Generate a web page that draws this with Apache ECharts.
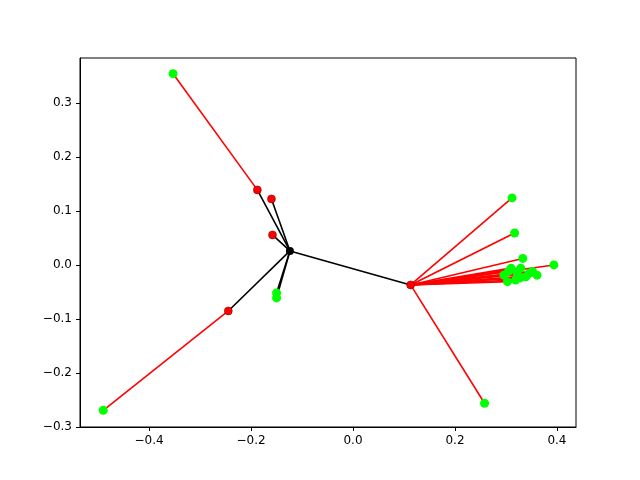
<!DOCTYPE html>
<html><head><meta charset="utf-8">
<script src="https://cdn.jsdelivr.net/npm/echarts@6/dist/echarts.min.js"></script>
<style>html,body{margin:0;background:#fff}#c{width:640px;height:480px}</style>
</head><body><div id="c"></div>
<script>
var center = [-0.1238, 0.0259];
var redNodes = [[-0.1877, 0.1389], [-0.160, 0.1222], [-0.158, 0.0556], [-0.2447, -0.0852], [0.113, -0.037]];
var greenFromCenter = [[-0.150, -0.052], [-0.150, -0.061]];
// [parent red index, x, y]
var greenLeaves = [
  [0, -0.353, 0.354], [3, -0.490, -0.269],
  [4, 0.312, 0.124], [4, 0.317, 0.059], [4, 0.258, -0.256],
  [4, 0.333, 0.012], [4, 0.394, 0.0], [4, 0.361, -0.019], [4, 0.303, -0.031],
  [4, 0.319, -0.028], [4, 0.339, -0.022], [4, 0.310, -0.006], [4, 0.329, -0.006],
  [4, 0.352, -0.012], [4, 0.296, -0.019], [4, 0.322, -0.015], [4, 0.345, -0.016],
  [4, 0.305, -0.012], [4, 0.328, -0.024]
];
var xTicks = [-0.4, -0.2, 0.0, 0.2, 0.4];
var yTicks = [-0.3, -0.2, -0.1, 0.0, 0.1, 0.2, 0.3];

var series = [];
function edge(a, b, col) {
  series.push({ type: 'line', data: [a, b], symbol: 'none', silent: true,
    lineStyle: { color: col, width: 1.6 }, z: 2 });
}
redNodes.forEach(function (r) { edge(center, r, '#000'); });
greenFromCenter.forEach(function (g) { edge(center, g, '#000'); });
greenLeaves.forEach(function (g) { edge(redNodes[g[0]], [g[1], g[2]], '#f00'); });
var greens = greenFromCenter.concat(greenLeaves.map(function (g) { return [g[1], g[2]]; }));
series.push({ type: 'scatter', data: greens, symbolSize: 9, itemStyle: { color: '#00ff00', opacity: 1 }, z: 3 });
series.push({ type: 'scatter', data: redNodes, symbolSize: 8, itemStyle: { color: '#f00', opacity: 1, borderColor: '#600', borderWidth: 0.5 }, z: 4 });
series.push({ type: 'scatter', data: [center], symbolSize: 8, itemStyle: { color: '#000', opacity: 1 }, z: 4 });

function fmt(v) { return v.toFixed(1).replace('-', '\u2212'); }
var axisCommon = {
  type: 'value', splitLine: { show: false },
  axisLine: { show: true, onZero: false, lineStyle: { color: '#000' } },
  axisTick: { show: true, lineStyle: { color: '#000' }, length: 4 },
  axisLabel: { color: '#000', fontSize: 12, fontFamily: 'DejaVu Sans', formatter: fmt }
};
var chart = echarts.init(document.getElementById('c'));
chart.setOption({
  animation: false,
  grid: { left: 80, right: 64, top: 58, bottom: 53, show: true, borderColor: '#000', borderWidth: 1 },
  xAxis: echarts.util.merge({ min: -0.5356, max: 0.4374,
    axisTick: { customValues: xTicks }, axisLabel: { customValues: xTicks, margin: 8 } }, axisCommon),
  yAxis: echarts.util.merge({ min: -0.3, max: 0.383,
    axisTick: { customValues: yTicks }, axisLabel: { customValues: yTicks, margin: 8 } }, axisCommon),
  series: series
});
</script></body></html>
